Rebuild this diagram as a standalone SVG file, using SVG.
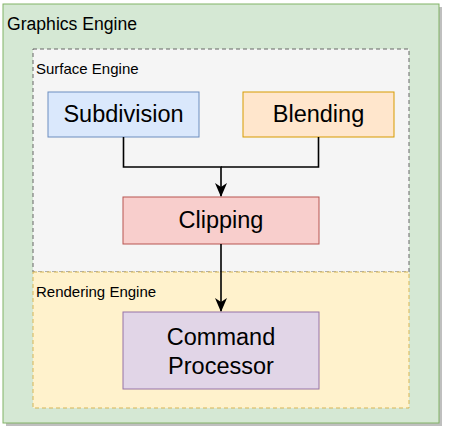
<svg xmlns="http://www.w3.org/2000/svg" width="450" height="437" viewBox="0 0 450 437">
<defs>
<style>
text{font-family:"Liberation Sans",Arial,Helvetica,sans-serif;fill:#000}
.node{font-size:23.5px;text-anchor:middle}
.lbl{font-size:15px}
.edge{fill:none;stroke:#000;stroke-width:1.6}
</style>
<marker id="ah" viewBox="0 0 14 12" refX="13" refY="6" markerWidth="14" markerHeight="12" markerUnits="userSpaceOnUse" orient="auto"><path d="M0,0 L14,6 L0,12 L4,6 z" fill="#000"/></marker>
</defs>
<g id="graphics-engine">
<rect x="6" y="7" width="436" height="419" fill="#000" fill-opacity="0.25"/>
<rect x="3" y="4" width="436" height="419" fill="#d5e8d4" stroke="#82b366" stroke-width="1"/>
<text x="7" y="30" font-size="17.6">Graphics Engine</text>
</g>
<g id="surface-engine">
<rect x="33" y="49" width="376" height="223" fill="#f5f5f5" stroke="#666666" stroke-dasharray="4 3"/>
<text class="lbl" x="36" y="74">Surface Engine</text>
</g>
<g id="rendering-engine">
<rect x="33" y="272" width="376" height="136" fill="#fff2cc" stroke="#d6b656" stroke-dasharray="4 3"/>
<text class="lbl" x="36" y="297">Rendering Engine</text>
</g>
<g id="subdivision">
<rect x="48" y="92" width="151" height="45" fill="#dae8fc" stroke="#6c8ebf"/>
<text class="node" x="123.5" y="122">Subdivision</text>
</g>
<g id="blending">
<rect x="243" y="92" width="151" height="45" fill="#ffe6cc" stroke="#d79b00"/>
<text class="node" x="318.5" y="122">Blending</text>
</g>
<g id="clipping">
<rect x="123" y="197" width="196" height="47" fill="#f8cecc" stroke="#b85450"/>
<text class="node" x="221" y="228">Clipping</text>
</g>
<g id="command-processor">
<rect x="123" y="312" width="196" height="77" fill="#e1d5e7" stroke="#9673a6"/>
<text class="node" x="221" y="345">Command</text>
<text class="node" x="221" y="374">Processor</text>
</g>
<g id="connectors">
<polyline class="edge" points="123.5,137 123.5,167 221,167 221,196" marker-end="url(#ah)"/>
<polyline class="edge" points="318.5,137 318.5,167 221,167"/>
<line class="edge" x1="221" y1="244" x2="221" y2="311" marker-end="url(#ah)"/>
</g>
</svg>
